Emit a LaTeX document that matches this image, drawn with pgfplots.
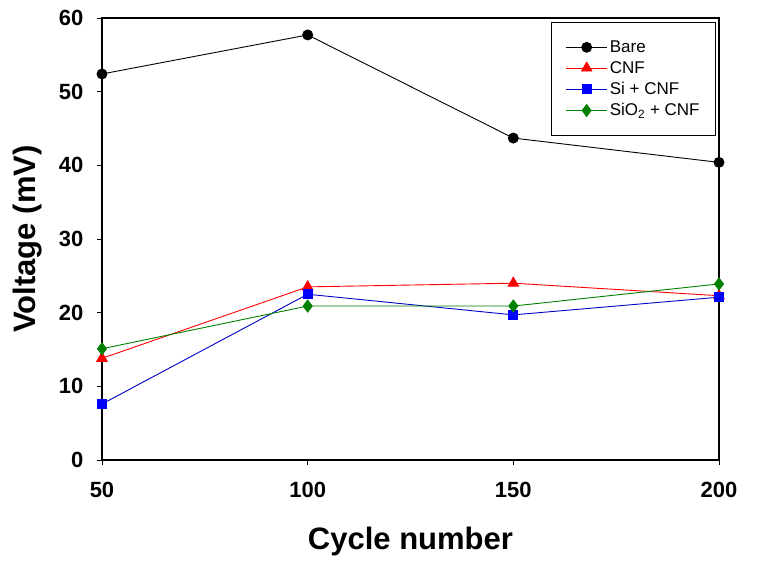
\documentclass[border=0pt]{standalone}
\usepackage{pgfplots}
\pgfplotsset{compat=1.18}
\usepackage{fontspec}
\setmainfont{Liberation Sans}
\definecolor{dgreen}{RGB}{0,128,0}
\definecolor{navyline}{RGB}{0,0,200}
\begin{document}
\begin{tikzpicture}
\begin{axis}[
  name=ax,
  scale only axis,
  width=617pt, height=442pt,
  xmin=50, xmax=200, ymin=0, ymax=60,
  xtick={50,100,150,200},
  ytick={0,10,20,30,40,50,60},
  tick align=outside,
  tick pos=left,
  major tick length=5pt,
  axis line style={line width=1.2pt},
  every tick/.style={black, line width=0.8pt},
  /pgf/number format/assume math mode=true,
  ticklabel style={font=\fontsize{22}{24}\selectfont\bfseries},
  xticklabel style={yshift=-14pt},
  yticklabel style={xshift=-10pt},
  xlabel={Cycle number},
  ylabel={Voltage (mV)},
  label style={font=\fontsize{31}{34}\selectfont\bfseries},
  xlabel style={yshift=-22pt},
  ylabel style={yshift=10pt},
  legend style={at={(0.995,0.99)}, anchor=north east, draw=black, line width=0.6pt,
    font=\fontsize{17}{19}\selectfont, row sep=3.5pt, inner xsep=14pt, inner ysep=16pt,
    cells={anchor=west}},
  legend image post style={line width=0.8pt},
  legend image code/.code={
    \draw[#1] (0cm,0cm) -- (1.45cm,0cm);
    \draw[#1,only marks] plot coordinates {(0.72cm,0cm)};
  },
  every axis plot/.append style={line width=0.9pt},
]
\addplot[black, mark=*, mark size=5pt, mark options={fill=black}] coordinates {(50,52.4) (100,57.7) (150,43.7) (200,40.4)};
\addlegendentry{Bare}
\addplot[red, mark=triangle*, mark size=6pt, mark options={fill=red}] coordinates {(50,13.8) (100,23.5) (150,24.0) (200,22.3)};
\addlegendentry{CNF}
\addplot[navyline, mark=square*, mark size=4.5pt, mark options={fill=blue, draw=blue}] coordinates {(50,7.6) (100,22.5) (150,19.7) (200,22.1)};
\addlegendentry{Si + CNF}
\addplot[dgreen, mark=diamond*, mark size=6pt, mark options={fill=dgreen}] coordinates {(50,15.1) (100,20.9) (150,20.9) (200,23.9)};
\addlegendentry{SiO\textsubscript{2} + CNF}
\end{axis}
\path ([xshift=-102pt,yshift=-103pt]ax.south west) rectangle ([xshift=60pt,yshift=18pt]ax.north east);
\end{tikzpicture}
\end{document}
